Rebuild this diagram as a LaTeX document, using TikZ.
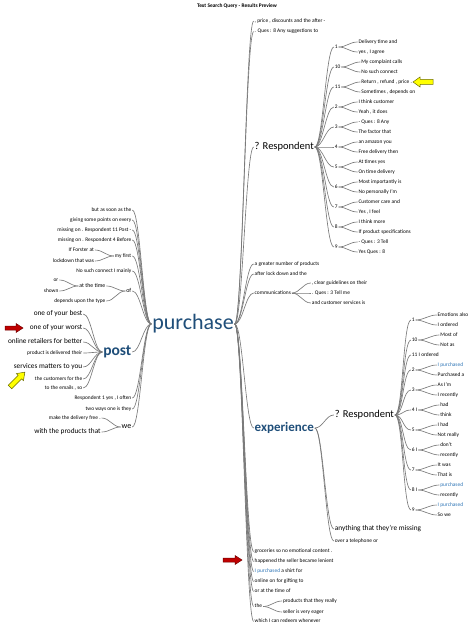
\documentclass[tikz,border=0pt]{standalone}
\usepackage{fontspec}
\setmainfont{Carlito}
\usetikzlibrary{calc}
\definecolor{lc}{HTML}{7A7A7A}
\definecolor{db}{HTML}{1F4E79}
\definecolor{lb}{HTML}{2E75B6}
\definecolor{yf}{HTML}{FFFF00}
\definecolor{yd}{HTML}{6B6B00}
\definecolor{rf}{HTML}{C00000}
\definecolor{rd}{HTML}{700000}
\begin{document}
\begin{tikzpicture}[x=1pt,y=-1pt,
  every node/.style={inner sep=1pt, outer sep=0pt},
  sm/.style={font=\fontsize{5.4}{6}\selectfont, text height=3.8pt, text depth=1.2pt},
  md/.style={font=\fontsize{7.3}{8}\selectfont, text height=5.1pt, text depth=1.6pt},
  rs/.style={font=\fontsize{10.5}{12}\selectfont, text height=7.3pt, text depth=2.3pt},
  R/.style={anchor=west, xshift=19pt},
  L/.style={anchor=east, xshift=-19pt},
  con/.style={draw=lc, line width=0.65pt, to path={.. controls +(8pt,0) and +(-8pt,0) .. (\tikztotarget)}},
  conl/.style={draw=lc, line width=0.65pt, to path={.. controls +(-8pt,0) and +(8pt,0) .. (\tikztotarget)}},
  yarrow/.style={fill=yf, draw=yd, line width=0.5pt, line join=miter},
  rarrow/.style={fill=rf, draw=rd, line width=0.5pt, line join=miter},
]
\useasboundingbox (0,0) rectangle (474,628);
\node[font=\bfseries\fontsize{5.4}{6}\selectfont] (title) at (237,6) {Text Search Query - Results Preview};
\node[font=\fontsize{22}{24}\selectfont, text=db, text height=15.4pt, text depth=4.8pt] (P) at (193,324) {purchase};

% ---------- right side of purchase ----------
\node[sm,R] (r1) at (P.east |- 0,21) {, price , discounts and the after -};
\node[sm,R] (r2) at (P.east |- 0,31.5) {. Ques : 8 Any suggestions to};
\node[rs,R] (RA) at (P.east |- 0,147) {? Respondent};
\node[sm,R] (r3) at (P.east |- 0,264) {a greater number of products};
\node[sm,R] (r4) at (P.east |- 0,274) {after lock down and the};
\node[sm,R] (CM) at (P.east |- 0,293) {communications};
\node[font=\bfseries\fontsize{13}{14}\selectfont, text=db, text height=9.1pt, text depth=2.9pt, R] (EX) at (P.east |- 0,428) {experience};
\node[sm,R] (r5) at (P.east |- 0,551.5) {groceries so no emotional content .};
\node[sm,R] (r6) at (P.east |- 0,561.5) {happened the seller became lenient};
\node[sm,R] (r7) at (P.east |- 0,571.5) {\textcolor{lb}{I purchased} a shirt for};
\node[sm,R] (r8) at (P.east |- 0,581.5) {online on for gifting to};
\node[sm,R] (r9) at (P.east |- 0,591.5) {or at the time of};
\node[sm,R] (TH) at (P.east |- 0,606.5) {the};
\node[sm,R] (r10) at (P.east |- 0,621.5) {which I can redeem whenever};
\foreach \c in {r1,r2,RA,r3,r4,CM,EX,r5,r6,r7,r8,r9,TH,r10}
  \draw[con] (P.east) to (\c.west);

% communications
\node[sm,R] (c1) at (CM.east |- 0,283) {, clear guidelines on their};
\node[sm,R] (c2) at (CM.east |- 0,293) {. Ques : 3 Tell me};
\node[sm,R] (c3) at (CM.east |- 0,303) {and customer services is};
\foreach \c in {c1,c2,c3} \draw[con] (CM.east) to (\c.west);

% the
\node[sm,R] (t1) at (TH.east |- 0,601) {products that they really};
\node[sm,R] (t2) at (TH.east |- 0,612) {seller is very eager};
\foreach \c in {t1,t2} \draw[con] (TH.east) to (\c.west);

% first respondent
\foreach \n/\y/\ta/\tb [count=\i] in {
  1/47/{Delivery time and}/{yes , I agree},
  10/67/{My complaint calls}/{No such connect},
  11/87/{Return , refund , price .}/{Sometimes , depends on},
  2/107/{I think customer}/{Yeah , it does},
  3/127/{- Ques : 8 Any}/{The factor that},
  4/147/{an amazon you}/{Free delivery then},
  5/167/{At times yes}/{On time delivery},
  6/187/{Most importantly is}/{No personally I'm},
  7/207/{Customer care and}/{Yes , I feel},
  8/227/{I think more}/{If product specifications},
  9/247/{- Ques : 3 Tell}/{Yes Ques : 8}}
{
  \pgfmathsetmacro\yu{\y-5}
  \pgfmathsetmacro\yd{\y+5}
  \node[sm,R] (a\i) at (RA.east |- 0,\y) {\n};
  \node[sm,R] (au\i) at (a\i.east |- 0,\yu) {\ta};
  \node[sm,R] (ad\i) at (a\i.east |- 0,\yd) {\tb};
  \draw[con] (RA.east) to (a\i.west);
  \draw[con] (a\i.east) to (au\i.west);
  \draw[con] (a\i.east) to (ad\i.west);
}

% experience
\node[rs,R] (RB) at (EX.east |- 0,415) {? Respondent};
\node[md,R] (e1) at (EX.east |- 0,529) {anything that they're missing};
\node[sm,R] (e2) at (EX.east |- 0,541) {over a telephone or};
\foreach \c in {RB,e1,e2} \draw[con] (EX.east) to (\c.west);

\node[sm,R,xshift=-3pt] (b11) at (RB.east |- 0,355) {11 I ordered};
\draw[con] (RB.east) to (b11.west);
\foreach \n/\y/\ta/\tb [count=\i] in {
  1/320/{Emotions also}/{I ordered},
  10/340/{Most of}/{Not as},
  2/370/{\textcolor{lb}{I purchased}}/{Purchased a},
  3/390/{As I'm}/{I recently},
  4 I/410/{had}/{think},
  5/430/{I had}/{Not really},
  6 I/450/{don't}/{recently},
  7/470/{It was}/{That is},
  8 I/490/{\textcolor{lb}{purchased}}/{recently},
  9/510/{\textcolor{lb}{I purchased}}/{So we}}
{
  \pgfmathsetmacro\yu{\y-5}
  \pgfmathsetmacro\yd{\y+5}
  \node[sm,R,xshift=-3pt] (b\i) at (RB.east |- 0,\y) {\n};
  \node[sm,R,xshift=2pt] (bu\i) at (b\i.east |- 0,\yu) {\ta};
  \node[sm,R,xshift=2pt] (bd\i) at (b\i.east |- 0,\yd) {\tb};
  \draw[con] (RB.east) to (b\i.west);
  \draw[con] (b\i.east) to (bu\i.west);
  \draw[con] (b\i.east) to (bd\i.west);
}

% ---------- left side of purchase ----------
\node[sm,L] (l1) at (P.west |- 0,210) {but as soon as the};
\node[sm,L] (l2) at (P.west |- 0,220) {giving some points on every};
\node[sm,L] (l3) at (P.west |- 0,230) {missing on . Respondent 11 Post -};
\node[sm,L] (l4) at (P.west |- 0,240) {missing on . Respondent 4 Before};
\node[sm,L] (MF) at (P.west |- 0,256) {my first};
\node[sm,L] (l5) at (P.west |- 0,271) {No such connect I mainly};
\node[font=\fontsize{6}{7}\selectfont, text height=4.2pt, text depth=1.3pt, L] (OF) at (P.west |- 0,291) {of};
\node[font=\bfseries\fontsize{15.5}{17}\selectfont, text=db, text height=10.9pt, text depth=3.4pt, L] (PO) at (P.west |- 0,352) {post};
\node[sm,L] (l6) at (P.west |- 0,398) {Respondent 1 yes , I often};
\node[sm,L] (l7) at (P.west |- 0,409) {two ways one is they};
\node[font=\fontsize{8}{9}\selectfont, text height=5.6pt, text depth=1.8pt, L] (WE) at (P.west |- 0,427) {we};
\foreach \c in {l1,l2,l3,l4,MF,l5,OF,PO,l6,l7,WE}
  \draw[conl] (P.west) to (\c.east);

% my first
\node[sm,L] (m1) at (MF.west |- 0,250) {If Forster at};
\node[sm,L] (m2) at (MF.west |- 0,261) {lockdown that was};
\foreach \c in {m1,m2} \draw[conl] (MF.west) to (\c.east);

% of
\node[font=\fontsize{5.8}{7}\selectfont, text height=4pt, text depth=1.3pt, L] (AT) at (OF.west |- 0,286) {at the time};
\node[sm,L] (o2) at (OF.west |- 0,301) {depends upon the type};
\foreach \c in {AT,o2} \draw[conl] (OF.west) to (\c.east);
\node[sm,L] (at1) at (AT.west |- 0,280) {or};
\node[sm,L] (at2) at (AT.west |- 0,291) {shown};
\foreach \c in {at1,at2} \draw[conl] (AT.west) to (\c.east);

% post
\node[md,L] (p1) at (PO.west |- 0,314) {one of your best};
\node[md,L] (p2) at (PO.west |- 0,328) {one of your worst};
\node[md,L] (p3) at (PO.west |- 0,342) {online retailers for better};
\node[sm,L] (p4) at (PO.west |- 0,353) {product is delivered their};
\node[md,L] (p5) at (PO.west |- 0,367) {services matters to you};
\node[sm,L] (p6) at (PO.west |- 0,379) {the customers for the};
\node[sm,L] (p7) at (PO.west |- 0,388) {to the emails , so};
\foreach \c in {p1,p2,p3,p4,p5,p6,p7} \draw[conl] (PO.west) to (\c.east);

% we
\node[sm,L] (w1) at (WE.west |- 0,418) {make the delivery free .};
\node[md,L] (w2) at (WE.west |- 0,432) {with the products that};
\foreach \c in {w1,w2} \draw[conl] (WE.west) to (\c.east);

% ---------- highlight arrows ----------
\draw[yarrow] (413,82) -- (420,77) -- (420,79.5) -- (433,79.5) -- (433,84.5) -- (420,84.5) -- (420,87) -- cycle;
\draw[rarrow] (23,328) -- (16,323.5) -- (16,326) -- (5,326) -- (5,330) -- (16,330) -- (16,332.5) -- cycle;
\draw[rarrow] (242,560) -- (235,555.5) -- (235,558) -- (223,558) -- (223,562) -- (235,562) -- (235,564.5) -- cycle;
\begin{scope}[shift={(10,387)}, rotate=45]
  \draw[yarrow] (21,0) -- (14,-5) -- (14,-2.5) -- (0,-2.5) -- (0,2.5) -- (14,2.5) -- (14,5) -- cycle;
\end{scope}
\end{tikzpicture}
\end{document}
